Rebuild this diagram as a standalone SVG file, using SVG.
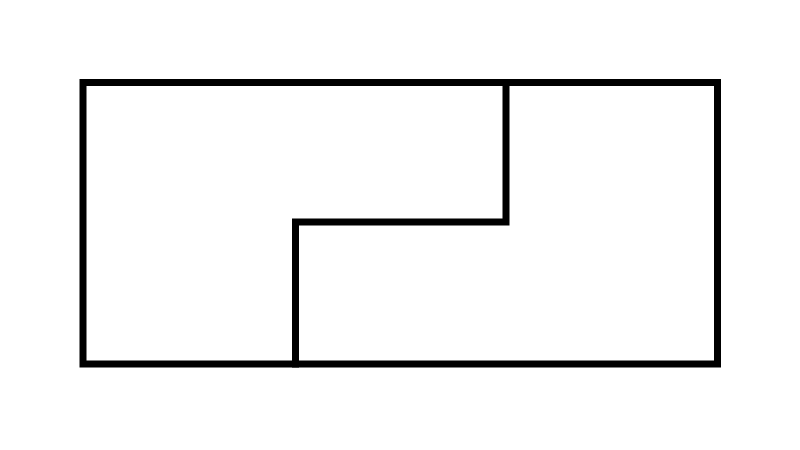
<svg xmlns="http://www.w3.org/2000/svg" width="800" height="450" viewBox="0 0 800 450">
<style>.s{fill:none;stroke:#000;stroke-width:7;stroke-linecap:square;stroke-linejoin:miter}</style>
<rect width="800" height="450" fill="#fff"/>
<g id="outline"><rect class="s" x="83" y="82.5" width="634.5" height="281.5"/></g>
<g id="divider"><path class="s" d="M506 82.5V222H295.5V364"/></g>
</svg>
